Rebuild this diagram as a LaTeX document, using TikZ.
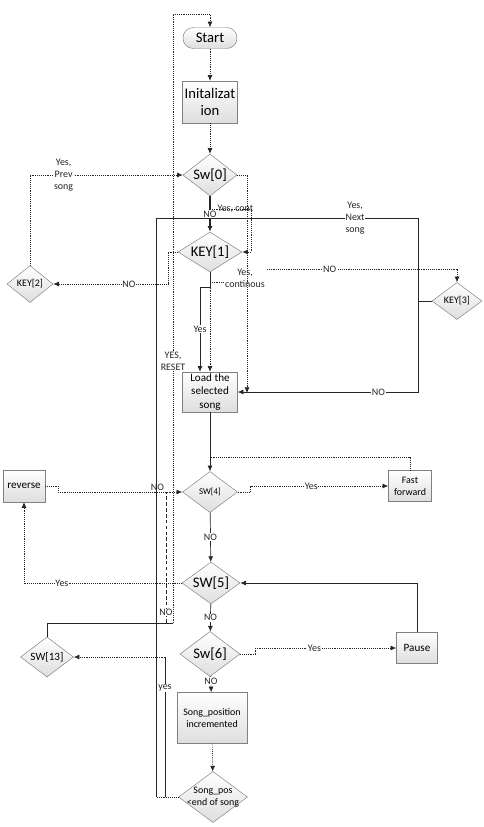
\documentclass[tikz,border=0pt]{standalone}
\usepackage{fontspec}
\setmainfont{Carlito}
\usetikzlibrary{arrows.meta,shapes.geometric}
\newcommand{\fbig}{\fontsize{12.5}{14}\selectfont}
\newcommand{\fmid}{\fontsize{9.5}{11.5}\selectfont}
\newcommand{\fsml}{\fontsize{8.5}{10.5}\selectfont}
\tikzset{
  blk/.style={rectangle, draw=black!50, top color=white, bottom color=black!13,
              inner sep=1pt, align=center},
  dec/.style={diamond, draw=black!50, top color=white, bottom color=black!13,
              inner sep=0pt, aspect=1.5, align=center},
  ln/.style={draw=black!85, line width=0.6pt},                  % plain connector
  dl/.style={ln, densely dotted},                               % dotted connector
  arr/.style={-{Latex[length=1.7mm,width=1.5mm]}},
  lbl/.style={font=\fsml, fill=white, inner sep=0.6pt, align=center, text=black!85},
  lbln/.style={lbl, fill=none},
}
\begin{document}
\begin{tikzpicture}[x=0.03cm, y=-0.03cm]
  \useasboundingbox (0,0) rectangle (484,827);
  % nodes
  \node[blk, rounded corners=3.1mm, minimum width=1.62cm, minimum height=0.63cm, font=\fbig] (start) at (210,38) {Start};
  \node[blk, minimum width=1.65cm, minimum height=1.26cm, font=\fbig] (init) at (210,102) {Initalizat\\ion};
  \node[dec, aspect=1.4, minimum width=1.62cm, minimum height=1.26cm, font=\fbig] (sw0) at (210,175) {Sw[0]};
  \node[dec, minimum width=1.92cm, minimum height=1.2cm, font=\fbig] (key1) at (210,252) {KEY[1]};
  \node[dec, minimum width=1.38cm, minimum height=1.11cm, font=\fsml] (key2) at (30,284) {KEY[2]};
  \node[dec, minimum width=1.5cm, minimum height=1.11cm, font=\fsml] (key3) at (457,301) {KEY[3]};
  \node[blk, minimum width=1.65cm, minimum height=1.2cm, font=\fmid] (load) at (210,392) {Load the\\selected\\song};
  \node[dec, minimum width=1.65cm, minimum height=1.23cm, font=\fontsize{7.5}{9}\selectfont] (sw4) at (210,492) {SW[4]};
  \node[blk, minimum width=1.29cm, minimum height=0.93cm, font=\fsml] (ffwd) at (410,486) {Fast\\forward};
  \node[blk, minimum width=1.26cm, minimum height=0.96cm, font=\fmid] (rev) at (24,486) {reverse};
  \node[dec, minimum width=1.74cm, minimum height=1.26cm, font=\fbig] (sw5) at (211,583) {SW[5]};
  \node[dec, minimum width=1.8cm, minimum height=1.35cm, font=\fbig] (sw6) at (210,654) {Sw[6]};
  \node[blk, minimum width=1.23cm, minimum height=0.93cm, font=\fmid] (pause) at (417,648) {Pause};
  \node[dec, minimum width=1.59cm, minimum height=1.2cm, font=\fmid] (sw13) at (47,657) {SW[13]};
  \node[blk, minimum width=2.1cm, minimum height=1.53cm, font=\fsml] (inc) at (212,718) {Song\_position\\incremented};
  \node[dec, minimum width=2.07cm, minimum height=1.53cm,
        label={[font=\fsml, align=center]center:{Song\_pos\\<end of song}}] (endpos) at (213,797) {};
  % free ends
  \coordinate (nxR) at (418,218);
  \coordinate (nxL) at (156,218);
  \coordinate (nxB) at (156,797);
  \coordinate (rsB) at (173,623);
  \coordinate (rsT) at (173,14);
  \coordinate (noB) at (166,623);
  \coordinate (ycA) at (210,209);
  \coordinate (kyes) at (200,287);
  \coordinate (kcont) at (210,282);
  \coordinate (kno) at (267,269);
  \coordinate (ffj) at (210,457);
  \coordinate (ysB) at (165,797);
  \coordinate (ysM) at (165,657);
  \node[lbln] (yct) at (245,278) {Yes,\\continous};
  % main column
  \draw[dl,arr] (start) -- (init);
  \draw[dl,arr] (init) -- (sw0);
  \draw[ln,line width=1.3pt,arr] (sw0) -- node[lbl]{NO} (key1);
  \draw[dl,arr] (sw0.east) -- (247,175) -- (247,393);
  \draw[dl,arr] (ycA) -- node[lbln,pos=0.62]{Yes, cont} (251,209) -- (251,252) -- (key1.east);
  \draw[ln,arr] (key1.south) |- (kyes) -- node[lbl]{Yes} (kyes |- load.north);
  \draw[dl] (kcont) -- (yct.west |- kcont);
  \draw[dl,arr] (kcont) -- (kcont |- load.north);
  \draw[dl,arr] (kno) -- node[lbl,pos=0.33]{NO} (key3.north |- kno) -- (key3.north);
  \draw[ln] (key3.west) -| (nxR) -- node[lbl,pos=0.24]{Yes,\\Next\\song} (nxL) -- (nxB);
  \draw[ln,arr] (key3.west -| nxR) |- node[lbl,pos=0.61]{NO} (load.east);
  \draw[dl,arr] (key1.west) -- (168,252) |- node[lbl,pos=0.67]{NO} (key2.east);
  \draw[dl,arr] (key2.north) |- node[lbl,pos=0.61]{Yes,\\Prev\\song} (sw0.west);
  \draw[ln,arr] (load) -- (sw4);
  \draw[dl] (ffwd.north) |- (ffj);
  \draw[dl,arr] (sw4.east) -- ++(13,0) |- node[lbl,pos=0.72]{Yes} (ffwd.west);
  \draw[dl,arr] (rev.east) -- ++(13,0) |- node[lbln,pos=0.9,above=0.5pt]{NO} (sw4.west);
  \draw[ln,densely dashed] (noB) -- node[lbl,pos=0.08]{NO} (166,492);
  \draw[ln] (sw13.north) |- (rsB);
  \draw[dl,arr] (rsB) -- node[lbl,pos=0.43]{YES,\\RESET} (rsT) -| (start.north);
  \draw[dl,arr] (sw5.west) -| node[lbl,pos=0.38]{Yes} (rev.south);
  \draw[ln,arr] (pause.north) |- (sw5.east);
  \draw[ln,arr] (sw4) -- node[lbl]{NO} (sw5);
  \draw[ln,arr] (sw5) -- node[lbl]{NO} (sw6);
  \draw[dl,arr] (sw6.east) -- ++(15,0) |- node[lbl,pos=0.71]{Yes} (pause.west);
  \draw[dl,arr] (sw6) -- node[lbl,pos=0.3]{NO} (inc);
  \draw[dl,arr] (inc) -- (endpos);
  \draw[dl] (endpos.west) -- (nxB);
  \draw[ln] (ysB) -- node[lbl,pos=0.78]{yes} (ysM);
  \draw[dl,arr] (ysM) -- (sw13.east);
\end{tikzpicture}
\end{document}
